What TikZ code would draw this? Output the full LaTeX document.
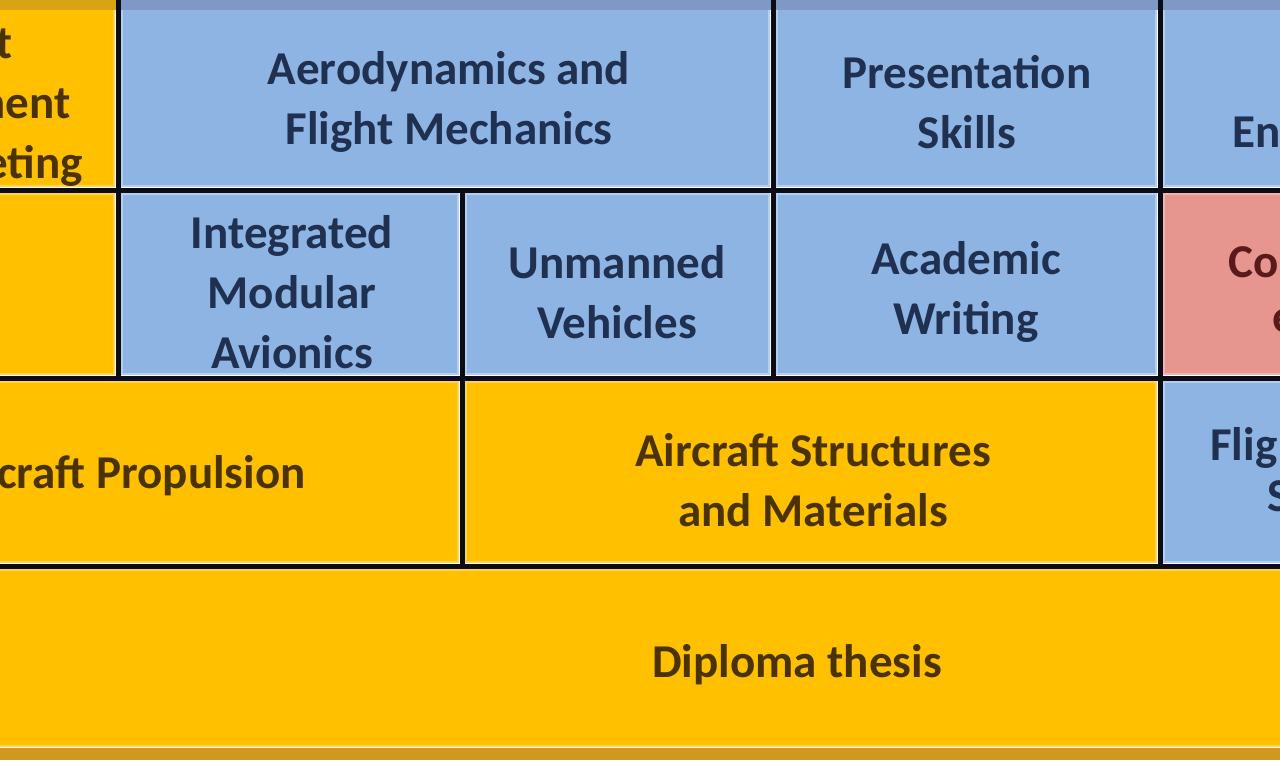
\documentclass[tikz,border=0pt]{standalone}
\usepackage{fontspec}
\setmainfont{Carlito}
\definecolor{yellowF}{HTML}{FFC000}
\definecolor{yellowL}{HTML}{FFD24A}
\definecolor{blueF}{HTML}{8EB4E3}
\definecolor{blueL}{HTML}{B3CEF0}
\definecolor{pinkF}{HTML}{E6958F}
\definecolor{pinkL}{HTML}{F2B3AE}
\definecolor{ytext}{HTML}{4A3300}
\definecolor{btext}{HTML}{1F3050}
\definecolor{ptext}{HTML}{5A1A1A}
\definecolor{topblue}{HTML}{7E99C5}
\definecolor{topyellow}{HTML}{D6A414}
\definecolor{bottomstrip}{HTML}{CF9A1C}
\definecolor{gridline}{HTML}{0C0C16}
\tikzset{
  txt/.style={font=\bfseries\fontsize{35.3}{45}\selectfont, align=center, inner sep=0pt},
  ytxt/.style={txt, text=ytext},
  btxt/.style={txt, text=btext},
  ptxt/.style={txt, text=ptext},
  ycell/.style={fill=yellowF, draw=yellowL, line width=2pt},
  bcell/.style={fill=blueF, draw=blueL, line width=2pt},
  pcell/.style={fill=pinkF, draw=pinkL, line width=2pt},
  grid/.style={draw=gridline, line width=3.75pt}
}
\begin{document}
\begin{tikzpicture}[x=0.75pt,y=-0.75pt]
\useasboundingbox (0,0) rectangle (1280,760);
\clip (0,0) rectangle (1280,760);
% row 1
\path[ycell] (-300,4) rectangle (114,186);
\path[bcell] (122,4) rectangle (769,186);
\path[bcell] (777,4) rectangle (1156,186);
\path[bcell] (1164,4) rectangle (1400,186);
% row 2
\path[ycell] (-300,194) rectangle (114,374);
\path[bcell] (122,194) rectangle (458,374);
\path[bcell] (466,194) rectangle (769,374);
\path[bcell] (777,194) rectangle (1156,374);
\path[pcell] (1164,194) rectangle (1400,374);
% row 3
\path[ycell] (-300,382) rectangle (458,562);
\path[ycell] (466,382) rectangle (1156,562);
\path[bcell] (1164,382) rectangle (1400,562);
% row 4
\path[ycell] (-300,570) rectangle (1400,746);
% top and bottom strips
\fill[topyellow] (0,0) rectangle (118,10);
\fill[topblue] (118,0) rectangle (1280,10);
\fill[bottomstrip] (0,748) rectangle (1280,760);
% grid lines
\draw[grid] (118,0) -- (118,378);
\draw[grid] (773,0) -- (773,378);
\draw[grid] (1160,0) -- (1160,566);
\draw[grid] (462,190) -- (462,566);
\draw[grid] (0,190) -- (1280,190);
\draw[grid] (0,378) -- (1280,378);
\draw[grid] (0,566) -- (1280,566);
% texts
\node[ytxt] (mgmt) at (-60,106) {Aircraft\\Management\\and Marketing};
\node[btxt] (aero) at (449,102) {Aerodynamics and\\Flight Mechanics};
\node[btxt] (pres) at (967,102) {Presentation\\Skills};
\node[btxt, anchor=base west] (eng) at (1232,147) {En};
\node[btxt] (ima) at (292,292) {Integrated\\Modular\\Avionics};
\node[btxt] (unm) at (617,292) {Unmanned\\Vehicles};
\node[btxt] (acad) at (966,292) {Academic\\Writing};
\node[ptxt, anchor=base west] (co) at (1228,277) {Co};
\node[ptxt, anchor=base west] (co2) at (1272,332) {e};
\node[ytxt, anchor=east] (prop) at (306,476) {Aircraft Propulsion};
\node[ytxt] (struct) at (813,480) {Aircraft Structures\\and Materials};
\node[btxt, anchor=base west] (flig) at (1210,460) {Flig};
\node[btxt, anchor=base west] (flig2) at (1267,511) {S};
\node[ytxt] (thesis) at (797,665) {Diploma thesis};
\end{tikzpicture}
\end{document}
